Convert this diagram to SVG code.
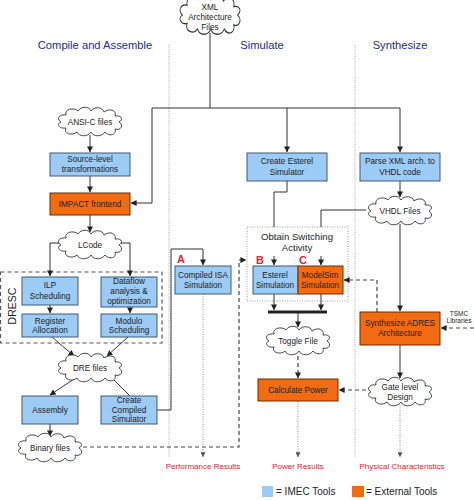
<svg xmlns="http://www.w3.org/2000/svg" width="474" height="500" viewBox="0 0 474 500">
<style>
text{font-family:"Liberation Sans",Arial,sans-serif;fill:#222;text-anchor:middle}
.t{font-size:8.2px}
.h{font-size:11.2px;fill:#2a2a85}
.r{font-size:8px;fill:#e8242c}
.lab{font-size:11px;font-weight:bold;fill:#e8242c}
.lg{font-size:10px;text-anchor:start}
.ob{font-size:9.6px}
.blue{fill:#9ccbf5;stroke:#3f5a74;stroke-width:1}
.ext{fill:#f26b12;stroke:#6b2d00;stroke-width:1}
.cloud{fill:#fff;stroke:#333;stroke-width:0.9}
.s{fill:none;stroke:#333;stroke-width:1}
.d{fill:none;stroke:#444;stroke-width:1.2;stroke-dasharray:4,3}
.p{fill:none;stroke:#888;stroke-width:1;stroke-dasharray:1,1.5}
.sep{fill:none;stroke:#aaa;stroke-width:1;stroke-dasharray:1,1.2}
</style>
<defs>
<path id="cl" d="M-24,-7 C-26,-13 -16,-15 -12,-11 C-9,-16 -1,-16 1,-11 C4,-16 13,-15 14,-10 C19,-14 27,-12 25,-6 C31,-7 34,-3 29,0 C34,3 31,9 25,7 C27,13 19,15 15,10 C12,15 3,15 1,10 C-2,15 -11,15 -13,10 C-17,14 -27,12 -24,6 C-31,7 -34,2 -29,0 C-34,-3 -31,-8 -24,-7 Z"/>
<marker id="a" viewBox="0 0 8 8" refX="7.5" refY="4" markerWidth="6" markerHeight="6" orient="auto" markerUnits="userSpaceOnUse"><path d="M0,0 L8,4 L0,8 Z" fill="#222"/></marker>
<marker id="ag" viewBox="0 0 8 8" refX="7.5" refY="4" markerWidth="5" markerHeight="5" orient="auto" markerUnits="userSpaceOnUse"><path d="M0,0 L8,4 L0,8 Z" fill="#555"/></marker>
</defs>

<g id="headings">
<text class="h" x="95" y="49">Compile and Assemble</text>
<text class="h" x="262" y="49">Simulate</text>
<text class="h" x="400" y="49">Synthesize</text>
</g>

<g id="separators">
<line class="sep" x1="169" y1="45" x2="169" y2="457"/>
<line class="sep" x1="355" y1="45" x2="355" y2="457"/>
<rect x="247" y="227" width="101" height="74" fill="none" stroke="#999" stroke-width="1" stroke-dasharray="1,1.5"/>
<rect x="0.5" y="272" width="161.5" height="71" fill="none" stroke="#555" stroke-width="1.2" stroke-dasharray="4,3"/>
<text x="13" y="306" transform="rotate(-90 13 306)" dominant-baseline="middle" style="font-size:10.5px">DRESC</text>
<text class="ob" x="297" y="240">Obtain Switching</text>
<text class="ob" x="297" y="251">Activity</text>
</g>

<g id="connectors">
<path class="s" d="M210,33 V108 M152,108 H400"/>
<path class="s" d="M152,108 V203 H131" marker-end="url(#a)"/>
<path class="s" d="M287,108 V152" marker-end="url(#a)"/>
<path class="s" d="M400,108 V152" marker-end="url(#a)"/>
<path class="s" d="M90,135 V152" marker-end="url(#a)"/>
<path class="s" d="M90,176 V192" marker-end="url(#a)"/>
<path class="s" d="M90,215 V232" marker-end="url(#a)"/>
<path class="s" d="M59,243 H50 V276" marker-end="url(#a)"/>
<path class="s" d="M121,243 H130 V276" marker-end="url(#a)"/>
<path class="s" d="M50,305 V313" marker-end="url(#a)"/>
<path class="s" d="M130,307 V313" marker-end="url(#a)"/>
<path class="s" d="M52,337 L74,356" marker-end="url(#a)"/>
<path class="s" d="M128,337 L107,356" marker-end="url(#a)"/>
<path class="s" d="M74,379 L50,395" marker-end="url(#a)"/>
<path class="s" d="M112,378 L130,396"/>
<path class="s" d="M50,424 V436" marker-end="url(#a)"/>
<path class="s" d="M157,410 H171 V249 H203 V265" marker-end="url(#a)"/>
<path class="s" d="M287,181 V192 H274 V227"/>
<path class="s" d="M274,256 V265" marker-end="url(#a)"/>
<path class="s" d="M366,210 H321 V227"/>
<path class="s" d="M321,256 V265" marker-end="url(#a)"/>
<path class="s" d="M274,294 V310" marker-end="url(#a)"/>
<path class="s" d="M321,294 V310" marker-end="url(#a)"/>
<line x1="268" y1="312" x2="327" y2="312" stroke="#222" stroke-width="3"/>
<path class="s" d="M298,313 V327" marker-end="url(#a)"/>
<path class="s" d="M400,181 V197" marker-end="url(#a)"/>
<path class="s" d="M400,224 V311" marker-end="url(#a)"/>
<path class="s" d="M400,345 V378" marker-end="url(#a)"/>
<path class="d" d="M83,447 H239 V260 H246" marker-end="url(#a)"/>
<path class="d" d="M377,312 V280 H344" marker-end="url(#a)"/>
<path class="d" d="M474,328 H441" marker-end="url(#a)"/>
<path class="d" d="M298,356 V378" marker-end="url(#a)"/>
<path class="d" d="M366,390 H339" marker-end="url(#a)"/>
<path class="p" d="M203,294 V457" marker-end="url(#ag)"/>
<path class="p" d="M298,401 V457" marker-end="url(#ag)"/>
<path class="p" d="M400,405 V457" marker-end="url(#ag)"/>
</g>

<g id="xml"><use href="#cl" class="cloud" transform="translate(210,15) scale(0.95,1.4)"/>
<text class="t" x="210" y="10">XML</text><text class="t" x="210" y="20">Architecture</text><text class="t" x="210" y="30">Files</text></g>
<g id="ansi"><use href="#cl" class="cloud" transform="translate(90,122)"/><text class="t" x="90" y="125">ANSI-C files</text></g>
<g id="source"><rect class="blue" x="50" y="153" width="80" height="23"/><text class="t" x="90" y="162">Source-level</text><text class="t" x="90" y="172">transformations</text></g>
<g id="impact"><rect class="ext" x="50" y="193" width="80" height="22"/><text class="t" x="90" y="207">IMPACT frontend</text></g>
<g id="lcode"><use href="#cl" class="cloud" transform="translate(90,245)"/><text class="t" x="90" y="248">LCode</text></g>
<g id="ilp"><rect class="blue" x="22" y="277" width="56" height="28"/><text class="t" x="50" y="288">ILP</text><text class="t" x="50" y="299">Scheduling</text></g>
<g id="dataflow"><rect class="blue" x="101" y="277" width="56" height="30"/><text class="t" x="129" y="284">Dataflow</text><text class="t" x="129" y="294">analysis &amp;</text><text class="t" x="129" y="304">optimization</text></g>
<g id="register"><rect class="blue" x="22" y="314" width="56" height="23"/><text class="t" x="50" y="324">Register</text><text class="t" x="50" y="333">Allocation</text></g>
<g id="modulo"><rect class="blue" x="101" y="314" width="56" height="23"/><text class="t" x="129" y="324">Modulo</text><text class="t" x="129" y="333">Scheduling</text></g>
<g id="dre"><use href="#cl" class="cloud" transform="translate(90,368)"/><text class="t" x="90" y="371">DRE files</text></g>
<g id="assembly"><rect class="blue" x="22" y="396" width="56" height="28"/><text class="t" x="50" y="413">Assembly</text></g>
<g id="createcompiled"><rect class="blue" x="101" y="396" width="56" height="28"/><text class="t" x="129" y="403">Create</text><text class="t" x="129" y="413">Compiled</text><text class="t" x="129" y="422">Simulator</text></g>
<g id="binary"><use href="#cl" class="cloud" transform="translate(50,448)"/><text class="t" x="50" y="451">Binary files</text></g>
<g id="compiledisa"><rect class="blue" x="175" y="266" width="56" height="28"/><text class="t" x="203" y="278">Compiled ISA</text><text class="t" x="203" y="288">Simulation</text><text class="lab" x="181" y="263">A</text></g>
<g id="createesterel"><rect class="blue" x="247" y="153" width="80" height="28"/><text class="t" x="287" y="164">Create Esterel</text><text class="t" x="287" y="175">Simulator</text></g>
<g id="esterelsim"><rect class="blue" x="253" y="266" width="45" height="28"/><text class="t" x="275" y="278">Esterel</text><text class="t" x="275" y="288">Simulation</text><text class="lab" x="260" y="264">B</text></g>
<g id="modelsim"><rect class="ext" x="298" y="266" width="45" height="28"/><text class="t" x="320" y="278">ModelSim</text><text class="t" x="320" y="288">Simulation</text><text class="lab" x="303" y="264">C</text></g>
<g id="toggle"><use href="#cl" class="cloud" transform="translate(298,341)"/><text class="t" x="298" y="344">Toggle File</text></g>
<g id="calcpower"><rect class="ext" x="258" y="379" width="80" height="22"/><text class="t" x="298" y="393">Calculate Power</text></g>
<g id="parsexml"><rect class="blue" x="360" y="153" width="80" height="28"/><text class="t" x="400" y="164">Parse XML arch. to</text><text class="t" x="400" y="175">VHDL code</text></g>
<g id="vhdl"><use href="#cl" class="cloud" transform="translate(400,211)"/><text class="t" x="400" y="214">VHDL Files</text></g>
<g id="synth"><rect class="ext" x="360" y="312" width="80" height="33"/><text class="t" x="400" y="326">Synthesize ADRES</text><text class="t" x="400" y="336">Architecture</text></g>
<g id="tsmc"><text x="459" y="316" style="font-size:6.5px">TSMC</text><text x="459" y="323" style="font-size:6.5px">Libraries</text></g>
<g id="gate"><use href="#cl" class="cloud" transform="translate(400,392)"/><text class="t" x="400" y="390">Gate level</text><text class="t" x="400" y="400">Design</text></g>
<g id="results">
<text class="r" x="203" y="469">Performance Results</text>
<text class="r" x="298" y="469">Power Results</text>
<text class="r" x="402" y="469">Physical Characteristics</text>
</g>
<g id="legend">
<rect x="262" y="486" width="11" height="11" fill="#9ccbf5"/>
<text class="lg" x="276" y="495">= IMEC Tools</text>
<rect x="352" y="486" width="12" height="11" fill="#f26b12"/>
<text class="lg" x="366" y="495">= External Tools</text>
</g>
</svg>
